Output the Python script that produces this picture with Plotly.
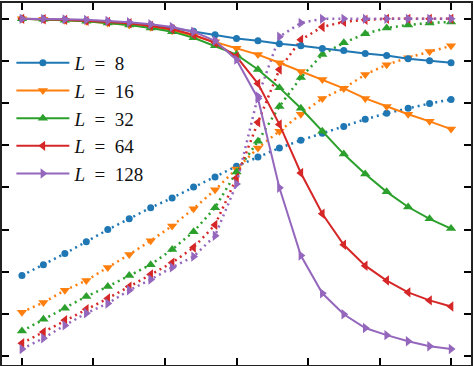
import plotly.graph_objects as go

# x grid (21 points) and tick positions
x_vals = [round(0.3 * i, 2) for i in range(21)]
x_ticks = [0, 1, 2, 3, 4, 5, 6]
y_ticks = [0, 0.125, 0.25, 0.375, 0.5, 0.625, 0.75, 0.875, 1.0]

sizes = ["8", "16", "32", "64", "128"]

# decreasing (solid) curves
dec_8 = [1.000, 0.9985, 0.997, 0.994, 0.991, 0.987, 0.981, 0.973, 0.963, 0.953, 0.942,
         0.935, 0.926, 0.920, 0.912, 0.906, 0.897, 0.891, 0.882, 0.876, 0.870]
dec_16 = [1.000, 0.9985, 0.9956, 0.9926, 0.988, 0.982, 0.975, 0.965, 0.950, 0.932, 0.913,
          0.894, 0.870, 0.844, 0.820, 0.794, 0.764, 0.740, 0.717, 0.696, 0.673]
dec_32 = [1.000, 0.9985, 0.9956, 0.9926, 0.988, 0.982, 0.973, 0.962, 0.944, 0.920, 0.894,
          0.850, 0.796, 0.735, 0.667, 0.599, 0.540, 0.487, 0.442, 0.407, 0.378]
dec_64 = [1.000, 0.999, 0.997, 0.994, 0.991, 0.987, 0.979, 0.969, 0.953, 0.929, 0.888,
          0.808, 0.687, 0.543, 0.422, 0.330, 0.268, 0.224, 0.189, 0.165, 0.147]
dec_128 = [1.000, 1.000, 0.9985, 0.997, 0.994, 0.990, 0.984, 0.976, 0.962, 0.935, 0.879,
           0.764, 0.499, 0.298, 0.186, 0.124, 0.083, 0.062, 0.044, 0.029, 0.021]

# increasing (dotted) curves
inc_8 = [0.239, 0.271, 0.304, 0.339, 0.375, 0.407, 0.440, 0.469, 0.501, 0.531, 0.563,
         0.590, 0.617, 0.640, 0.661, 0.681, 0.702, 0.720, 0.735, 0.749, 0.761]
inc_16 = [0.130, 0.159, 0.195, 0.224, 0.263, 0.301, 0.342, 0.386, 0.437, 0.493, 0.555,
          0.617, 0.667, 0.717, 0.764, 0.794, 0.835, 0.864, 0.885, 0.903, 0.920]
inc_32 = [0.074, 0.109, 0.142, 0.177, 0.206, 0.239, 0.271, 0.316, 0.369, 0.440, 0.546,
          0.637, 0.740, 0.826, 0.894, 0.929, 0.956, 0.973, 0.982, 0.988, 0.991]
inc_64 = [0.038, 0.071, 0.106, 0.139, 0.171, 0.206, 0.242, 0.277, 0.322, 0.389, 0.528,
          0.693, 0.850, 0.938, 0.976, 0.991, 0.997, 1.000, 1.000, 1.000, 1.000]
inc_128 = [0.021, 0.053, 0.091, 0.127, 0.156, 0.195, 0.227, 0.263, 0.295, 0.357, 0.510,
           0.770, 0.947, 0.988, 1.000, 1.000, 1.000, 1.000, 1.000, 1.000, 1.000]

dec_series = [dec_8, dec_16, dec_32, dec_64, dec_128]
inc_series = [inc_8, inc_16, inc_32, inc_64, inc_128]

colors = ["#1f77b4", "#ff7f0e", "#2ca02c", "#d62728", "#9467bd"]
symbols = ["circle", "triangle-down", "triangle-up", "triangle-left", "triangle-right"]
msizes = [7, 9, 9, 9, 9]

fig = go.Figure()

for k in range(5):
    fig.add_trace(go.Scatter(
        x=x_vals, y=inc_series[k], mode="lines+markers",
        line=dict(color=colors[k], width=2.5, dash="2px,4px"),
        marker=dict(symbol=symbols[k], size=msizes[k], color=colors[k], line=dict(width=0)),
        showlegend=False,
    ))

for k in range(5):
    fig.add_trace(go.Scatter(
        x=x_vals, y=dec_series[k], mode="lines+markers",
        line=dict(color=colors[k], width=2),
        marker=dict(symbol=symbols[k], size=msizes[k], color=colors[k], line=dict(width=0)),
        name="<i>L</i>\u00a0 =\u00a0 " + sizes[k],
        showlegend=True,
    ))

axis_common = dict(
    showline=True, mirror="ticks", linecolor="#222222", linewidth=1.5,
    ticks="inside", ticklen=7, tickwidth=1.5, tickcolor="#000000",
    showticklabels=False, showgrid=False, zeroline=False,
)

fig.update_layout(
    width=474, height=366,
    margin=dict(l=2, r=2, t=1, b=1),
    paper_bgcolor="white", plot_bgcolor="white",
    xaxis=dict(range=[-0.279, 6.279], tickvals=x_ticks, **axis_common),
    yaxis=dict(range=[-0.0265, 1.047], tickvals=y_ticks, **axis_common),
    legend=dict(
        x=0.02, y=0.887, xanchor="left", yanchor="top",
        bgcolor="rgba(255,255,255,0)", borderwidth=0,
        font=dict(family="Liberation Serif", size=19, color="#111111"),
        tracegroupgap=0, itemwidth=53,
    ),
)

fig.write_html(
    "out.html",
    config={"displayModeBar": False},
    post_script="document.body.style.margin='0';document.body.style.overflow='hidden';",
)
